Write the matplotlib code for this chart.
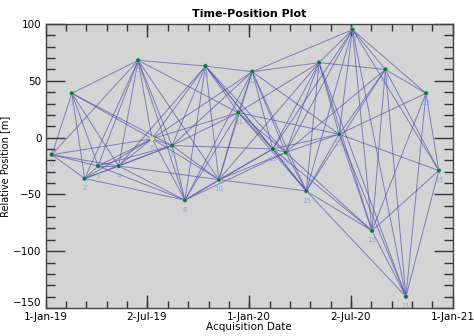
import numpy as np
import matplotlib
matplotlib.use("Agg")
import matplotlib.pyplot as plt
import matplotlib.dates as mdates
import matplotlib.transforms as mtransforms

# acquisition dates and relative positions
acq_dates = [
    "2019-01-12", "2019-02-17", "2019-03-12", "2019-04-05", "2019-05-12",
    "2019-06-16", "2019-07-11", "2019-08-16", "2019-09-08", "2019-10-15",
    "2019-11-08", "2019-12-13", "2020-01-07", "2020-02-13", "2020-03-07",
    "2020-04-13", "2020-05-06", "2020-06-11", "2020-07-05", "2020-08-09",
    "2020-09-02", "2020-10-09", "2020-11-14", "2020-12-07",
]
rel_pos = [-15, 39, -36, -25, -25, 68, -1, -7, -55, 63, -37, 22,
           58, -10, -13, -47, 66, 3, 95, -82, 60, -140, 39, -29]
master = 6

# connections: for each image, the later images it is paired with
links = [
    [1, 2, 3, 4, 5, 6],
    [2, 3, 4, 5, 6, 7],
    [3, 4, 5, 6, 7, 8],
    [4, 5, 6, 7, 8],
    [5, 6, 7, 8, 9, 10],
    [6, 7, 8, 9, 10, 11],
    [7, 8, 9, 10, 11, 12],
    [8, 9, 10, 11, 12, 13],
    [9, 10, 11, 12, 13, 14],
    [10, 11, 12, 13, 14, 15],
    [11, 12, 13, 14, 15, 16],
    [12, 13, 14, 15, 16, 17],
    [13, 14, 15, 16, 17, 18],
    [14, 15, 16, 17, 18, 19],
    [15, 16, 17, 18, 19, 20],
    [16, 17, 18, 19, 20, 21],
    [17, 18, 19, 20, 21],
    [18, 19, 20, 21, 22, 23],
    [19, 20, 21, 22, 23],
    [20, 21, 22, 23],
    [21, 22, 23],
    [22, 23],
    [23],
    [],
]

xtick_dates = ["2019-01-01", "2019-07-02", "2020-01-01", "2020-07-02", "2021-01-01"]
xtick_labels = ["1-Jan-19", "2-Jul-19", "1-Jan-20", "2-Jul-20", "1-Jan-21"]
ytick_values = [100, 50, 0, -50, -100, -150]

t = mdates.datestr2num(acq_dates)
y = np.array(rel_pos, dtype=float)

fig = plt.figure(figsize=(4.74, 3.36), dpi=100)
ax = fig.add_axes([0.0964, 0.0833, 0.8587, 0.8452])
ax.set_facecolor("#d4d4d4")

for i, targets in enumerate(links):
    for j in targets:
        ax.plot([t[i], t[j]], [y[i], y[j]], color="#4e4eaa", alpha=0.65,
                lw=0.7, zorder=2)

cols = ["#f2f21a" if k == master else "#0f7a1f" for k in range(len(t))]
ax.scatter(t, y, s=14, c="#8fb4ec", edgecolors="none", zorder=3)
ax.scatter(t, y, s=8, c=cols, edgecolors="none", zorder=4)
for k in range(len(t)):
    ax.annotate(str(k), (t[k], y[k]), xytext=(0, -7), textcoords="offset points",
                ha="center", va="center", fontsize=5, color="#86aae2", zorder=5)

x0 = mdates.datestr2num("2019-01-01")
x1 = mdates.datestr2num("2021-01-01")
ax.set_xlim(x0, x1)
ax.set_ylim(-150, 100)

ax.set_xticks(mdates.datestr2num(xtick_dates))
ax.set_xticklabels(xtick_labels)
ax.set_xticks(np.linspace(x0, x1, 21), minor=True)
ax.set_yticks(ytick_values)
ax.set_yticks(np.arange(-150, 101, 10), minor=True)

ax.tick_params(axis="both", which="both", direction="in", top=True, right=True,
               color="#333333", labelsize=7.5, width=1)
ax.tick_params(axis="y", which="major", length=14)
ax.tick_params(axis="y", which="minor", length=6.5)
ax.tick_params(axis="x", which="major", length=9.5)
ax.tick_params(axis="x", which="minor", length=5)
ax.tick_params(axis="x", pad=3)
ax.tick_params(axis="y", pad=3)

# lift the bottom y label a little so it clears the first date label
lbl = ax.get_yticklabels()[-1]
lbl.set_transform(lbl.get_transform() +
                  mtransforms.ScaledTranslation(0, 4 / 72, fig.dpi_scale_trans))

for s in ax.spines.values():
    s.set_color("#444444")
    s.set_linewidth(1)

ax.set_title("Time-Position Plot", fontsize=8, fontweight="bold", pad=5)
ax.set_xlabel("Acquisition Date", fontsize=7.5, labelpad=0)
ax.set_ylabel("Relative Position [m]", fontsize=7, labelpad=2)

fig.savefig("out.png", dpi=100)
